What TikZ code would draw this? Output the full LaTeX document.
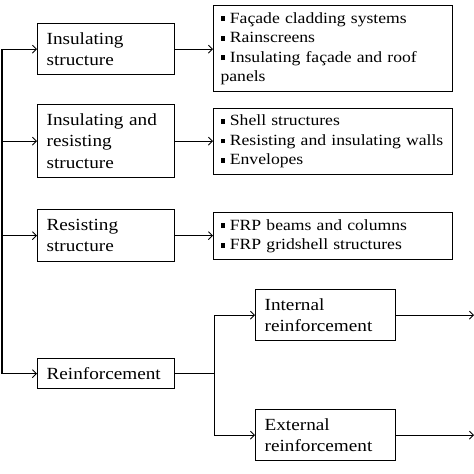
\documentclass[tikz,border=0pt]{standalone}
\usepackage{fontspec}
\setmainfont{Liberation Serif}[FakeStretch=1.13]
\usetikzlibrary{positioning,arrows.meta}
\newcommand{\bul}{\rule[.28ex]{.3em}{.3em}\hspace{.3em}}
\begin{document}
\begin{tikzpicture}[x=1pt,y=-1pt,
  cat/.style={draw,line width=1.3pt,anchor=north west,inner xsep=9pt,inner ysep=0pt,align=left,font=\fontsize{17}{21.5}\selectfont},
  lst/.style={draw,line width=1.1pt,anchor=north west,inner xsep=7pt,inner ysep=0pt,align=left,text width=225pt,font=\fontsize{15.6}{19.5}\selectfont},
  arr/.style={-{Straight Barb[length=4pt,width=8pt]},line width=.9pt}]
\useasboundingbox (0,0) rectangle (474,474);
% categories
\node[cat,text width=119pt,minimum height=51pt] (c1) at (37,23){Insulating\\structure};
\node[cat,text width=119pt,minimum height=73pt] (c2) at (37,104){Insulating and\\resisting\\structure};
\node[cat,text width=119pt,minimum height=52pt] (c3) at (37,209){Resisting\\structure};
\node[cat,text width=119pt,minimum height=30pt] (c4) at (37,358){Reinforcement};
% applications
\node[lst,minimum height=86pt] (l1) at (213,5){\bul Façade cladding systems\\\bul Rainscreens\\\bul Insulating façade and roof\\panels};
\node[lst,minimum height=66pt] (l2) at (213,108){\bul Shell structures\\\bul Resisting and insulating walls\\\bul Envelopes};
\node[lst,minimum height=47pt] (l3) at (213,212){\bul FRP beams and columns\\\bul FRP gridshell structures};
% reinforcement types
\node[cat,text width=122pt,minimum height=51pt] (r1) at (255,289){Internal\\reinforcement};
\node[cat,text width=122pt,minimum height=51pt] (r2) at (255,409){External\\reinforcement};
\coordinate (spine) at (2,0);\coordinate (fork) at (214,0);\coordinate (edge) at (474,0);
\draw[line width=1.6pt] (spine |- c1.west) -- (spine |- c4.west);
\foreach \n in {c1,c2,c3,c4}{\draw[arr] (spine |- \n.west) -- (\n.west);}
\foreach \a/\b in {c1/l1,c2/l2,c3/l3}{\draw[arr] (\a.east) -- (\a.east -| \b.west);}
\draw[line width=.9pt] (c4.east) -- (c4.east -| fork);\draw[line width=.9pt] (fork |- r1.west) -- (fork |- r2.west);
\foreach \n in {r1,r2}{\draw[arr] (fork |- \n.west) -- (\n.west);\draw[arr] (\n.east) -- (\n.east -| edge);}
\end{tikzpicture}
\end{document}
